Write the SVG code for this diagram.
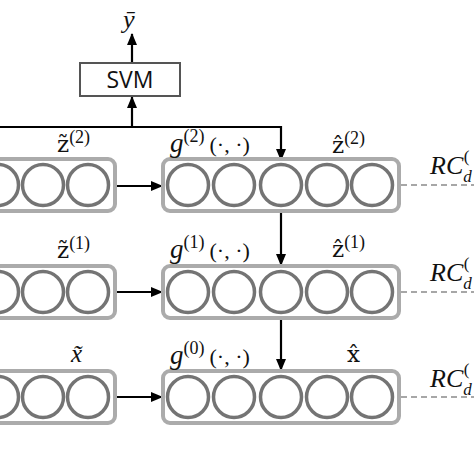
<svg xmlns="http://www.w3.org/2000/svg" width="474" height="474" viewBox="0 0 474 474">
<defs>
<style>
.box{fill:#fff;stroke:#ababab;stroke-width:4}
.cir{fill:#fff;stroke:#747474;stroke-width:3.5}
.ln{stroke:#000;stroke-width:2.2;fill:none}
.dash{stroke:#8a8a8a;stroke-width:1.5;stroke-dasharray:6 4;fill:none}
.m{font-family:"DejaVu Serif","Liberation Serif",serif;font-size:23px;fill:#111}
.mi{font-family:"Liberation Serif","DejaVu Serif",serif;font-style:italic;font-size:27px;fill:#111}
.sup{font-family:"Liberation Serif","DejaVu Serif",serif;font-style:normal;font-size:18px}
.par{font-family:"Liberation Serif","DejaVu Serif",serif;font-style:normal;font-size:22px}
.sv{font-family:"Open Sans","Liberation Sans",sans-serif;font-size:23px;fill:#111}
.rc{font-family:"Liberation Serif","DejaVu Serif",serif;font-style:italic;font-size:26px;fill:#111}
</style>
<marker id="ah" markerWidth="12" markerHeight="10" refX="11" refY="5" orient="auto" markerUnits="userSpaceOnUse">
<path d="M0,0 L12,5 L0,10 Z" fill="#000"/>
</marker>
</defs>

<g id="connectors">
<line class="ln" x1="132" y1="63" x2="132" y2="34" marker-end="url(#ah)"/>
<line class="ln" x1="132" y1="127" x2="132" y2="97" marker-end="url(#ah)"/>
<polyline class="ln" points="0,127 281,127 281,160" marker-end="url(#ah)"/>
<line class="ln" x1="117" y1="186" x2="162" y2="186" marker-end="url(#ah)"/>
<line class="ln" x1="117" y1="292" x2="162" y2="292" marker-end="url(#ah)"/>
<line class="ln" x1="117" y1="397" x2="162" y2="397" marker-end="url(#ah)"/>
<line class="ln" x1="281" y1="212" x2="281" y2="265" marker-end="url(#ah)"/>
<line class="ln" x1="281" y1="319" x2="281" y2="370" marker-end="url(#ah)"/>
<line class="dash" x1="401" y1="185" x2="474" y2="185"/>
<line class="dash" x1="401" y1="292" x2="474" y2="292"/>
<line class="dash" x1="401" y1="397" x2="474" y2="397"/>
</g>

<g id="svm">
<rect x="80" y="63" width="100" height="33" fill="#fff" stroke="#555" stroke-width="2"/>
<text class="sv" x="130" y="88" text-anchor="middle">SVM</text>
</g>
<g id="ybar"><text class="mi" x="123" y="28" style="font-size:26px">ȳ</text></g>

<g id="enc2">
<rect class="box" x="-30" y="159" width="145" height="52" rx="7"/>
<circle class="cir" cx="-2" cy="185" r="20.5"/><circle class="cir" cx="43" cy="185" r="20.5"/><circle class="cir" cx="88" cy="185" r="20.5"/>
<text class="m" x="57" y="152">z̃<tspan class="sup" dy="-9">(2)</tspan></text>
</g>
<g id="enc1">
<rect class="box" x="-30" y="266" width="145" height="52" rx="7"/>
<circle class="cir" cx="-2" cy="292" r="20.5"/><circle class="cir" cx="43" cy="292" r="20.5"/><circle class="cir" cx="88" cy="292" r="20.5"/>
<text class="m" x="57" y="258">z̃<tspan class="sup" dy="-9">(1)</tspan></text>
</g>
<g id="enc0">
<rect class="box" x="-30" y="371" width="145" height="52" rx="7"/>
<circle class="cir" cx="-2" cy="397" r="20.5"/><circle class="cir" cx="43" cy="397" r="20.5"/><circle class="cir" cx="88" cy="397" r="20.5"/>
<text class="mi" x="71" y="362" style="font-size:25px">x̃</text>
</g>

<g id="dec2">
<rect class="box" x="163" y="159" width="236" height="52" rx="7"/>
<circle class="cir" cx="188" cy="185" r="20.5"/><circle class="cir" cx="234" cy="185" r="20.5"/><circle class="cir" cx="281" cy="185" r="20.5"/><circle class="cir" cx="327" cy="185" r="20.5"/><circle class="cir" cx="372" cy="185" r="20.5"/>
<text class="mi" x="170" y="152">g<tspan class="sup" dy="-10">(2)</tspan><tspan class="par" dy="10" dx="5">(·, ·)</tspan></text>
<text class="m" x="332" y="153">ẑ<tspan class="sup" dy="-9">(2)</tspan></text>
</g>
<g id="dec1">
<rect class="box" x="163" y="266" width="236" height="52" rx="7"/>
<circle class="cir" cx="188" cy="292" r="20.5"/><circle class="cir" cx="234" cy="292" r="20.5"/><circle class="cir" cx="281" cy="292" r="20.5"/><circle class="cir" cx="327" cy="292" r="20.5"/><circle class="cir" cx="372" cy="292" r="20.5"/>
<text class="mi" x="170" y="258">g<tspan class="sup" dy="-10">(1)</tspan><tspan class="par" dy="10" dx="5">(·, ·)</tspan></text>
<text class="m" x="332" y="257">ẑ<tspan class="sup" dy="-9">(1)</tspan></text>
</g>
<g id="dec0">
<rect class="box" x="163" y="371" width="236" height="52" rx="7"/>
<circle class="cir" cx="188" cy="397" r="20.5"/><circle class="cir" cx="234" cy="397" r="20.5"/><circle class="cir" cx="281" cy="397" r="20.5"/><circle class="cir" cx="327" cy="397" r="20.5"/><circle class="cir" cx="372" cy="397" r="20.5"/>
<text class="mi" x="170" y="364">g<tspan class="sup" dy="-10">(0)</tspan><tspan class="par" dy="10" dx="5">(·, ·)</tspan></text>
<text class="m" x="347" y="362">x̂</text>
</g>

<g id="rc2"><text class="rc" x="430" y="174">RC<tspan style="font-size:17px" dy="8">d</tspan><tspan style="font-size:17px;font-style:normal" dx="-8" dy="-20">(</tspan></text></g>
<g id="rc1"><text class="rc" x="430" y="281">RC<tspan style="font-size:17px" dy="8">d</tspan><tspan style="font-size:17px;font-style:normal" dx="-8" dy="-20">(</tspan></text></g>
<g id="rc0"><text class="rc" x="430" y="387">RC<tspan style="font-size:17px" dy="8">d</tspan><tspan style="font-size:17px;font-style:normal" dx="-8" dy="-20">(</tspan></text></g>
</svg>
